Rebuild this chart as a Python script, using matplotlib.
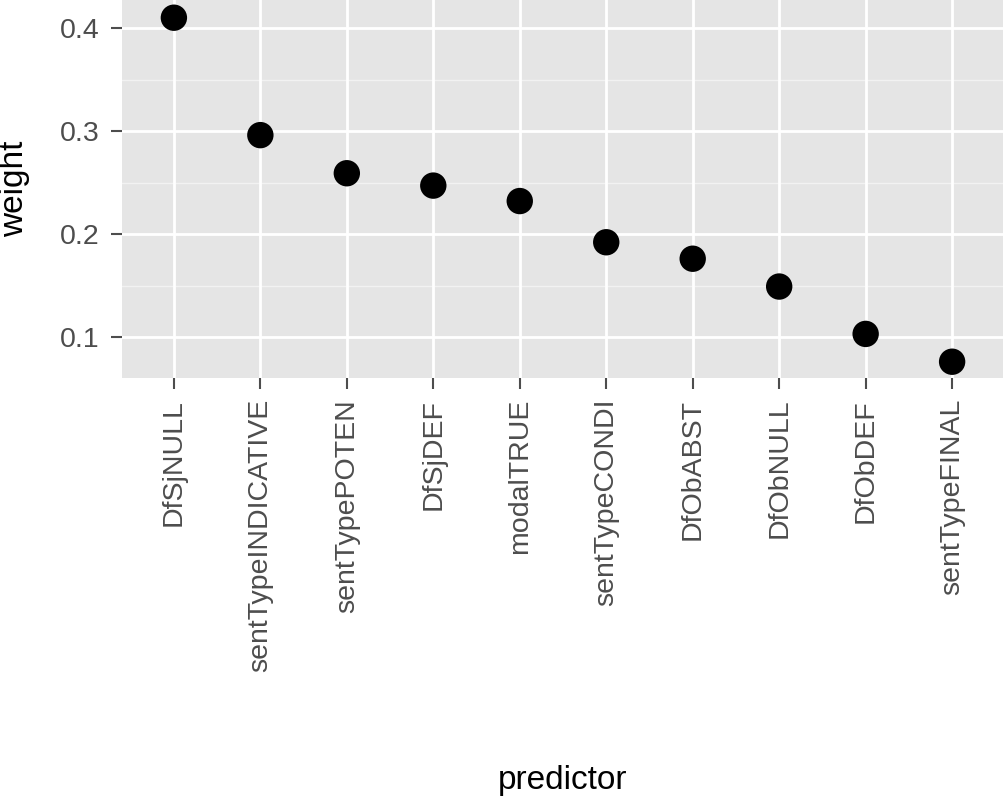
import numpy as np
import matplotlib.pyplot as plt

predictors = ['DfSjNULL', 'sentTypeINDICATIVE', 'sentTypePOTEN', 'DfSjDEF',
              'modalTRUE', 'sentTypeCONDI', 'DfObABST', 'DfObNULL',
              'DfObDEF', 'sentTypeFINAL']
weights = [0.410, 0.296, 0.259, 0.247, 0.232, 0.192, 0.176, 0.149, 0.103, 0.076]

plt.rcParams['font.family'] = ['Liberation Sans', 'DejaVu Sans']

fig = plt.figure(figsize=(10.04, 8.01), dpi=100)
ax = fig.add_axes([122 / 1004, 1 - 378 / 801, 882 / 1004, 378 / 801])
ax.set_facecolor('#E5E5E5')

x = np.arange(1, len(predictors) + 1)

# minor grid lines (ggplot style)
for v in [0.15, 0.25, 0.35]:
    ax.axhline(v, color='#F2F2F2', lw=1.0, zorder=0)
ax.grid(True, color='white', lw=2.0, zorder=1)
ax.set_axisbelow(True)

ax.scatter(x, weights, s=19 ** 2, color='black', zorder=3, edgecolors='none')

ax.set_xlim(0.4, 10.6)
ax.set_ylim(0.0602, 0.4272)
ax.set_yticks([0.1, 0.2, 0.3, 0.4])
ax.set_yticklabels(['0.1', '0.2', '0.3', '0.4'])
ax.set_xticks(x)
ax.set_xticklabels(predictors, rotation=90)

for s in ax.spines.values():
    s.set_visible(False)

ax.tick_params(axis='both', length=8, width=1.5, color='#4D4D4D',
               labelcolor='#4D4D4D', labelsize=20.5)
ax.tick_params(axis='x', pad=7)
ax.tick_params(axis='y', pad=8)

ax.set_xlabel('predictor', fontsize=24, color='black')
ax.xaxis.set_label_coords(0.5, -(765 - 378) / 378)
ax.set_ylabel('weight', fontsize=24, color='black')
ax.yaxis.set_label_coords(-(122 - 30) / 882, 0.5)

fig.savefig('out.png', dpi=100)
